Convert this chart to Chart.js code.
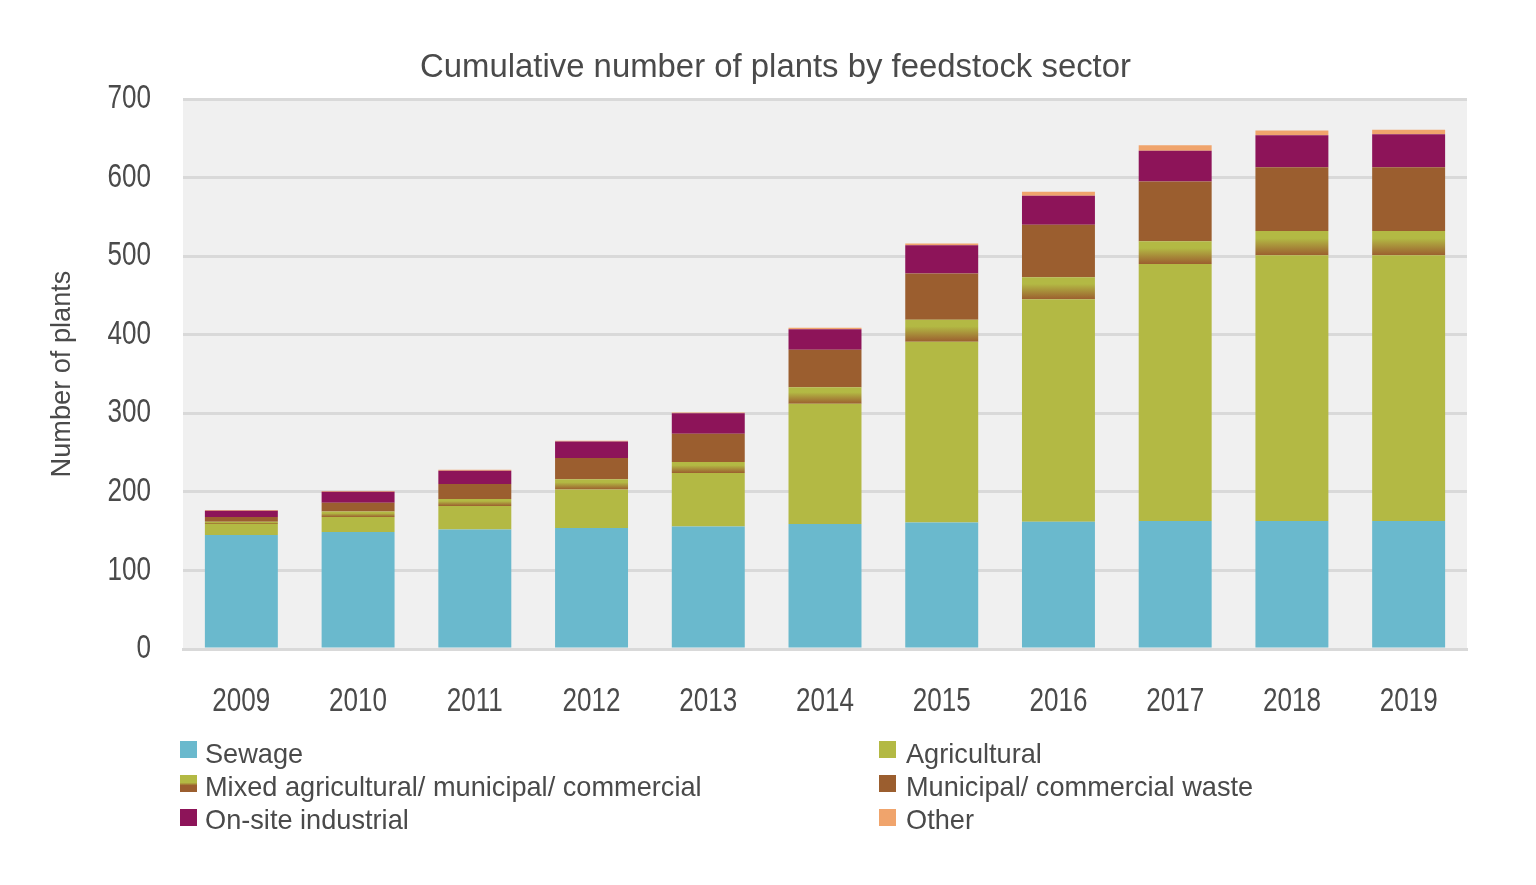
<!DOCTYPE html>
<html>
<head>
<meta charset="utf-8">
<script src="https://cdn.jsdelivr.net/npm/chart.js@4.4.1/dist/chart.umd.min.js"></script>
<style>
  html, body { margin: 0; padding: 0; background: #ffffff; }
  #wrap { position: relative; width: 1536px; height: 885px; overflow: hidden; }
  #c { position: absolute; left: 0; top: 0; }
  .txt { font-family: "Liberation Sans", Arial, sans-serif; color: #4a4a4a; white-space: nowrap; position: absolute; transform-origin: 0 0; }
  #title { left: 420px; top: 48px; font-size: 34px; line-height: 34px; }
  .leg { font-size: 28px; line-height: 28px; }
  .sw { position: absolute; width: 17px; height: 17px; }
</style>
</head>
<body>
<div id="wrap">
  <canvas id="c" width="1536" height="885"></canvas>
  <div id="title" class="txt">Cumulative number of plants by feedstock sector</div>
  <div id="legend"></div>
</div>
<script>
const years = ["2009","2010","2011","2012","2013","2014","2015","2016","2017","2018","2019"];
const seriesNames = ["Sewage","Agricultural","Mixed agricultural/ municipal/ commercial","Municipal/ commercial waste","On-site industrial","Other"];
const sewage       = [145,149,152,154,156,159,161,162,163,163,163];
const agricultural = [14,19,30,49,68,153,230,283,327,338,338];
const mixed        = [3,7,9,13,14,21,28,28,29,31,31];
const municipal    = [6,11,19,27,36,48,59,67,76,81,81];
const industrial   = [8,14,17,21,26,26,36,37,39,41,42];
const other        = [1,1,1,1,1,2,2,5,7,6,6];
const yTicks = [0,100,200,300,400,500,600,700];

const C_SEW = "#6ab9cd", C_AGR = "#b3b944", C_MUN = "#9b5e2f", C_IND = "#8d1459", C_OTH = "#f0a46c";
const FONT = '"Liberation Sans", Arial, sans-serif';
const TXT = "#4a4a4a";

// condensed rendering of canvas text (narrow look of the original)
const cv = document.getElementById('c');
const g2 = cv.getContext('2d');
const origFill = g2.fillText.bind(g2);
const origMeasure = g2.measureText.bind(g2);
function condense(font) {
  if (font.indexOf('33px') >= 0) return 0.79;
  if (font.indexOf('28px') >= 0) return 0.97;
  return 1;
}
g2.fillText = function (t, x, y, mw) {
  const f = condense(g2.font);
  if (f === 1) { return mw === undefined ? origFill(t, x, y) : origFill(t, x, y, mw); }
  g2.save();
  g2.translate(x, y);
  g2.scale(f, 1);
  if (mw === undefined) origFill(t, 0, 0); else origFill(t, 0, 0, mw / f);
  g2.restore();
};
g2.measureText = function (t) {
  const m = origMeasure(t);
  const f = condense(g2.font);
  if (f === 1) return m;
  return { width: m.width * f, actualBoundingBoxAscent: m.actualBoundingBoxAscent, actualBoundingBoxDescent: m.actualBoundingBoxDescent };
};

function mixedFill(ctx) {
  const chart = ctx.chart;
  const i = ctx.dataIndex;
  if (!chart.chartArea || i === undefined || !chart.scales.y) return C_AGR;
  const y = chart.scales.y;
  const base = sewage[i] + agricultural[i];
  const yb = y.getPixelForValue(base);
  const yt = y.getPixelForValue(base + mixed[i]);
  if (!isFinite(yb) || !isFinite(yt) || yb === yt) return C_AGR;
  const g = chart.ctx.createLinearGradient(0, yt, 0, yb);
  g.addColorStop(0, C_AGR);
  g.addColorStop(0.3, C_AGR);
  g.addColorStop(1, C_MUN);
  return g;
}

const plotBg = {
  id: 'plotBg',
  beforeDraw(chart) {
    const {ctx, chartArea: a} = chart;
    ctx.save();
    ctx.fillStyle = "#f0f0f0";
    ctx.fillRect(a.left, a.top, a.right - a.left, a.bottom - a.top);
    ctx.restore();
  }
};

const common = { stack: 's', barPercentage: 0.625, categoryPercentage: 1.0, borderWidth: 0 };

new Chart(cv, {
  type: 'bar',
  data: {
    labels: years,
    datasets: [
      Object.assign({ label: seriesNames[0], data: sewage, backgroundColor: C_SEW }, common),
      Object.assign({ label: seriesNames[1], data: agricultural, backgroundColor: C_AGR }, common),
      Object.assign({ label: seriesNames[2], data: mixed, backgroundColor: mixedFill }, common),
      Object.assign({ label: seriesNames[3], data: municipal, backgroundColor: C_MUN }, common),
      Object.assign({ label: seriesNames[4], data: industrial, backgroundColor: C_IND }, common),
      Object.assign({ label: seriesNames[5], data: other, backgroundColor: C_OTH }, common)
    ]
  },
  options: {
    responsive: false,
    animation: false,
    layout: { padding: { left: 0, right: 69, top: 99, bottom: 156 } },
    plugins: { legend: { display: false }, title: { display: false }, tooltip: { enabled: false } },
    scales: {
      x: {
        stacked: true,
        offset: true,
        grid: { display: false, drawTicks: false },
        border: { display: true, color: "#d9d9d9", width: 3 },
        ticks: { color: TXT, font: { family: FONT, size: 33 }, padding: 33, maxRotation: 0, autoSkip: false },
        afterFit(s) { s.height = 80; }
      },
      y: {
        stacked: true,
        min: 0, max: 700,
        afterBuildTicks(s) { s.ticks = yTicks.map(v => ({ value: v })); },
        grid: { color: "#d9d9d9", lineWidth: 3, drawTicks: false },
        border: { display: false },
        ticks: { color: TXT, font: { family: FONT, size: 33 }, padding: 32 },
        title: { display: true, text: "Number of plants", color: TXT, font: { family: FONT, size: 28 }, padding: { top: 45, bottom: 0 } },
        afterFit(s) { s.width = 183; }
      }
    }
  },
  plugins: [plotBg]
});

// title: fit to original width
const titleEl = document.getElementById('title');
titleEl.style.transform = 'scaleX(' + (711 / titleEl.getBoundingClientRect().width) + ')';

// HTML legend (two columns, row-wise order)
const legendColors = [C_SEW, C_AGR, null, C_MUN, C_IND, C_OTH];
const legend = document.getElementById('legend');
const swX = [180, 879];
const txX = [205, 906];
const swY = [741, 775, 809];
const txY = [740, 773, 806];
seriesNames.forEach((name, k) => {
  const col = k % 2, row = Math.floor(k / 2);
  const sw = document.createElement('div');
  sw.className = 'sw';
  sw.style.left = swX[col] + 'px';
  sw.style.top = swY[row] + 'px';
  if (legendColors[k]) sw.style.background = legendColors[k];
  else sw.style.background = 'linear-gradient(to bottom, ' + C_AGR + ' 0%, ' + C_AGR + ' 45%, ' + C_MUN + ' 62%, ' + C_MUN + ' 100%)';
  legend.appendChild(sw);
  const d = document.createElement('div');
  d.className = 'leg txt';
  d.style.left = txX[col] + 'px';
  d.style.top = txY[row] + 'px';
  d.style.transform = 'scaleX(0.97)';
  d.textContent = name;
  legend.appendChild(d);
});
</script>
</body>
</html>
